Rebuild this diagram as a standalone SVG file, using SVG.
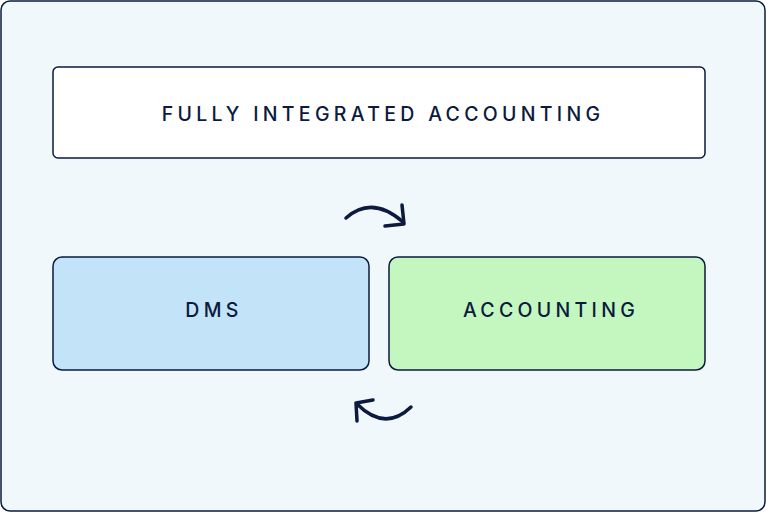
<svg xmlns="http://www.w3.org/2000/svg" width="766" height="512" viewBox="0 0 766 512">
<style>
.b{stroke:#0b1a3d;stroke-width:1.5}
.t{font-family:"Inter","Liberation Sans",sans-serif;font-size:19.5px;letter-spacing:4.3px;fill:#0b1a3d;text-anchor:middle;font-weight:500}
.a{fill:none;stroke:#0b1a3d;stroke-width:3.5;stroke-linecap:round;stroke-linejoin:round}
</style>
<rect x="1" y="1" width="764" height="510" rx="9" fill="#f1f8fc" class="b"/>
<g id="top"><rect x="53" y="67" width="652" height="91" rx="5" fill="#fff" class="b"/><text class="t" x="383" y="121">FULLY INTEGRATED ACCOUNTING</text></g>
<g id="dms"><rect x="53" y="257" width="316" height="113" rx="9" fill="#c2e3f8" class="b"/><text class="t" x="214" y="317">DMS</text></g>
<g id="acc"><rect x="389" y="257" width="316" height="113" rx="9" fill="#c3f7bf" class="b"/><text class="t" x="551" y="317">ACCOUNTING</text></g>
<g id="connectors">
<path class="a" d="M346 218 Q372 195 403 222"/>
<path class="a" d="M402 205 L404 224 L385 226"/>
<path class="a" d="M411 407 Q385 432 357 404"/>
<path class="a" d="M373 400 L356 403 L357 421"/>
</g>
</svg>
